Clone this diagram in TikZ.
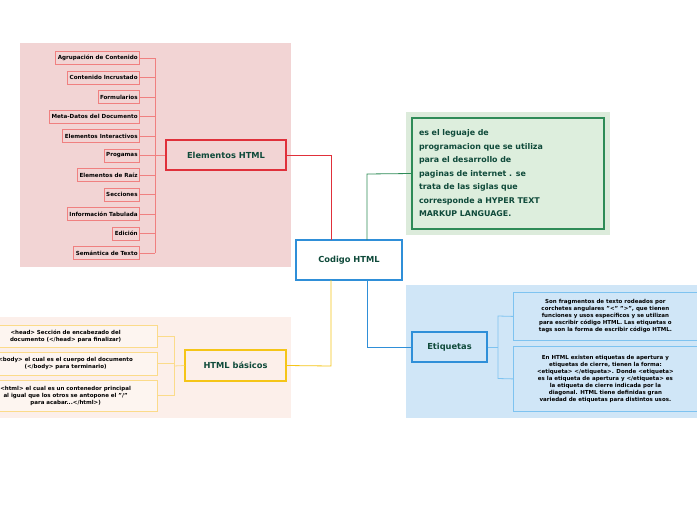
\documentclass[tikz,border=0pt]{standalone}
\usepackage{fontspec}
\setmainfont{DejaVu Sans}
\begin{document}
\begin{tikzpicture}[x=1pt,y=-1pt,
  leaf/.style={draw=#1,line width=0.8pt,inner sep=2pt,font=\fontsize{5.6}{6.5}\selectfont\bfseries,minimum height=13pt,anchor=east},
  mid/.style={draw=#1,line width=1.3pt,font=\fontsize{8.3}{10}\selectfont\bfseries,text=tgreen,inner sep=0pt},
  desc/.style={draw=#1,line width=0.8pt,font=\fontsize{5.5}{7}\selectfont\bfseries,align=center,inner sep=2pt,anchor=north west}]
\definecolor{tgreen}{HTML}{0F4A3A}
\definecolor{pinkbg}{HTML}{F2D4D4}
\definecolor{rd}{HTML}{E0303A}
\definecolor{sal}{HTML}{F08080}
\definecolor{bl}{HTML}{2F8FD8}
\definecolor{lbl}{HTML}{7EC3F0}
\definecolor{gr}{HTML}{2E8B57}
\definecolor{gold}{HTML}{F5C518}
\definecolor{lgold}{HTML}{FBDB8A}
\definecolor{greenbg}{HTML}{DCEBDB}
\definecolor{greenfill}{HTML}{DDEEDD}
\definecolor{bluebg}{HTML}{D0E6F7}
\definecolor{yelbg}{HTML}{FCEFEA}
\definecolor{yelfill}{HTML}{FDF5F0}
\clip (0,0) rectangle (697,520);
\fill[white] (0,0) rectangle (697,520);
\fill[pinkbg] (20,43) rectangle (291,267);
\fill[greenbg] (406,112) rectangle (610,235);
\fill[bluebg] (406,285) rectangle (697,418);
\fill[yelbg] (0,317) rectangle (291,418);
% center
\node[mid=bl,fill=white,minimum width=106pt,minimum height=40pt] (c) at (349,260) {Codigo HTML};
% Elementos
\node[mid=rd,fill=pinkbg,minimum width=120pt,minimum height=30pt] (e) at (226,155) {Elementos HTML};
\foreach \t [count=\i] in {Agrupación de Contenido,Contenido Incrustado,Formularios,Meta-Datos del Documento,Elementos Interactivos,Progamas,Elementos de Raíz,Secciones,Información Tabulada,Edición,Semántica de Texto}{
  \node[leaf=sal] (l\i) at (140,{58+19.5*(\i-1)}) {\t};
  \draw[sal,line width=0.8pt] (l\i.east) -- (155,{58+19.5*(\i-1)});
}
\draw[sal,line width=0.8pt] (155,58) -- (155,253);
\draw[sal,line width=0.8pt] (155,155) -- (e.west);
\draw[rd,line width=0.8pt] (e.east) -- (331,155) -- (331,240);
% definition
\node[draw=gr,line width=1.3pt,fill=greenfill,text=tgreen,font=\fontsize{7.9}{13.5}\selectfont\bfseries,align=left,minimum width=192pt,minimum height=111pt,inner sep=7pt,text width=178pt] (d) at (508,173.5) {es el leguaje de\\programacion que se utiliza\\para el desarrollo de\\paginas de internet . se\\trata de las siglas que\\corresponde a HYPER TEXT\\MARKUP LANGUAGE.};
\draw[gr,line width=0.8pt] (367,240) -- (367,174) -- (d.west);
% Etiquetas
\node[mid=bl,fill=bluebg,minimum width=75pt,minimum height=30pt] (t) at (449.5,347) {Etiquetas};
\draw[bl,line width=0.8pt] (367,280) -- (367,347) -- (t.west);
\node[desc=lbl,minimum width=184pt,minimum height=48pt] (t1) at (513,292) {Son fragmentos de texto rodeados por\\corchetes angulares "<" ">", que tienen\\funciones y usos específicos y se utilizan\\para escribir código HTML. Las etiquetas o\\tags son la forma de escribir código HTML.};
\node[desc=lbl,minimum width=184pt,minimum height=65pt] (t2) at (513,346) {En HTML existen etiquetas de apertura y\\etiquetas de cierre, tienen la forma:\\<etiqueta> </etiqueta>. Donde <etiqueta>\\es la etiqueta de apertura y </etiqueta> es\\la etiqueta de cierre indicada por la\\diagonal. HTML tiene definidas gran\\variedad de etiquetas para distintos usos.};
\draw[lbl,line width=0.8pt] (t.east) -- (498,347);
\draw[lbl,line width=0.8pt] (t1.west) -- (498,316) -- (498,378.5) -- (t2.west);
% HTML basicos
\node[mid=gold,fill=yelbg,minimum width=101pt,minimum height=31pt] (h) at (235.5,365.5) {HTML básicos};
\draw[gold,line width=0.8pt] (331,280) -- (331,366) -- (h.east);
\foreach \t/\y/\hh [count=\i] in {{<head> Sección de encabezado del\\documento (</head> para finalizar)}/336/22,{<body> el cual es el cuerpo del documento\\(</body> para terminario)}/363.5/23,{<html> el cual es un contenedor principal\\al igual que los otros se antopone el "/"\\para acabar...</html>)}/395.5/31}{
  \node[draw=lgold,line width=0.8pt,fill=yelfill,font=\fontsize{5.5}{7}\selectfont\bfseries,align=center,minimum width=184pt,minimum height=\hh pt,inner sep=1pt,anchor=east] (b\i) at (158,\y) {\t};
  \draw[lgold,line width=0.8pt] (b\i.east) -- (174,\y);
}
\draw[lgold,line width=0.8pt] (174,336) -- (174,395.5);
\draw[lgold,line width=0.8pt] (174,366) -- (h.west);
\end{tikzpicture}
\end{document}
